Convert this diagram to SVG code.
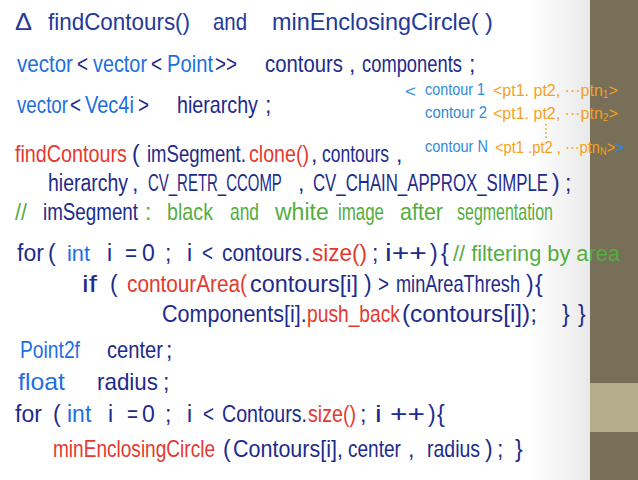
<svg xmlns="http://www.w3.org/2000/svg" width="638" height="480" viewBox="0 0 638 480">
<defs>
<linearGradient id="shade" x1="0" y1="0" x2="1" y2="0">
<stop offset="0" stop-color="#ffffff"/>
<stop offset="1" stop-color="#e9e9e9"/>
</linearGradient>
</defs>
<style>
text{font-family:"Liberation Sans","Noto Sans",Arial,sans-serif;font-size:23px}
.a{font-size:16px}
.nv{fill:#1d2b8c}
.tt{fill:#22399a}
.lb{fill:#1d6fe0}
.rd{fill:#e5392d}
.gr{fill:#54ad40}
.or{fill:#f4a11c}
.ab{fill:#2f8bd8}
</style>
<g id="background">
<rect x="0" y="0" width="638" height="480" fill="#ffffff"/>
<rect x="530" y="0" width="60" height="480" fill="url(#shade)"/>
<rect x="590" y="0" width="48" height="480" fill="#776f58"/>
<rect x="590" y="383" width="48" height="49" fill="#b4ad8b"/>
</g>
<g id="title" class="tt">
<text x="15" y="30" class="tt" textLength="17" lengthAdjust="spacingAndGlyphs">Δ</text>
<text class="tt" transform="matrix(0.975 0 0 1 48 30)">findContours()</text>
<text class="tt" transform="matrix(0.886 0 0 1 213 30)">and</text>
<text class="tt" transform="matrix(1.017 0 0 1 272 30)">minEnclosingCircle( )</text>
</g>
<g id="decl-contours">
<text class="lb" transform="matrix(0.894 0 0 1 17 72)">vector</text>
<text class="nv" transform="matrix(0.819 0 0 1 77 72)">&lt;</text>
<text class="lb" transform="matrix(0.862 0 0 1 93 72)">vector</text>
<text class="nv" transform="matrix(0.819 0 0 1 151 72)">&lt;</text>
<text class="lb" transform="matrix(0.878 0 0 1 167 72)">Point</text>
<text class="nv" transform="matrix(0.819 0 0 1 215 72)">&gt;&gt;</text>
<text class="nv" transform="matrix(0.884 0 0 1 265 72)">contours</text>
<text class="nv" x="349" y="72">,</text>
<text class="nv" transform="matrix(0.798 0 0 1 362 72)">components</text>
<text class="nv" x="469" y="72">;</text>
</g>
<g id="decl-hierarchy">
<text class="lb" transform="matrix(0.814 0 0 1 17 113)">vector</text>
<text class="nv" transform="matrix(0.819 0 0 1 70 113)">&lt;</text>
<text class="lb" transform="matrix(0.869 0 0 1 85 113)">Vec4i</text>
<text class="nv" transform="matrix(0.819 0 0 1 138 113)">&gt;</text>
<text class="nv" transform="matrix(0.856 0 0 1 177 113)">hierarchy</text>
<text class="nv" x="265" y="113">;</text>
</g>
<g id="annotation">
<text class="a ab" transform="matrix(1.18 0 0 1 405 97)">&lt;</text>
<text class="a ab" transform="matrix(0.9 0 0 1 425 95)">contour 1</text>
<text class="a or" x="493" y="96">&lt;pt1. pt2, ···ptn<tspan font-size="10" dy="2">1</tspan><tspan dy="-2">&gt;</tspan></text>
<text class="a ab" transform="matrix(0.93 0 0 1 425 118)">contour 2</text>
<text class="a or" x="493" y="119">&lt;pt1. pt2, ···ptn<tspan font-size="10" dy="2">2</tspan><tspan dy="-2">&gt;</tspan></text>
<line x1="546" y1="124" x2="546" y2="138" stroke="#f4a11c" stroke-width="1.6" stroke-dasharray="1.6 2.6"/>
<text class="a ab" transform="matrix(0.908 0 0 1 425 152)">contour N</text>
<text class="a or" transform="matrix(0.92 0 0 1 495 153)">&lt;pt1 .pt2 , ···ptn<tspan font-size="10" dy="2">N</tspan><tspan dy="-2">&gt;</tspan></text>
<text class="a ab" x="615" y="153">&gt;</text>
</g>
<g id="call-findcontours">
<text class="rd" transform="matrix(0.859 0 0 1 15 162)">findContours</text>
<text class="nv" x="132" y="162">(</text>
<text class="nv" transform="matrix(0.807 0 0 1 147 162)">imSegment.</text>
<text class="rd" transform="matrix(0.854 0 0 1 249 162)">clone()</text>
<text class="nv" x="311" y="162">,</text>
<text class="nv" transform="matrix(0.76 0 0 1 322 162)">contours</text>
<text class="nv" x="396" y="162">,</text>
<text class="nv" transform="matrix(0.846 0 0 1 48 191)">hierarchy</text>
<text class="nv" x="132" y="191">,</text>
<text class="nv" transform="matrix(0.651 0 0 1 148 191)">CV_RETR_CCOMP</text>
<text class="nv" x="298" y="191">,</text>
<text class="nv" transform="matrix(0.73 0 0 1 313 191)">CV_CHAIN_APPROX_SIMPLE</text>
<text class="nv" x="552" y="191">)</text>
<text class="nv" x="565" y="191">;</text>
</g>
<g id="comment">
<text class="gr" transform="matrix(0.94 0 0 1 15 220)">//</text>
<text class="nv" transform="matrix(0.817 0 0 1 43 220)">imSegment</text>
<text class="gr" x="145" y="220">:</text>
<text class="gr" transform="matrix(0.857 0 0 1 167 220)">black</text>
<text class="gr" transform="matrix(0.755 0 0 1 230 220)">and</text>
<text class="gr" x="275" y="220">white</text>
<text class="gr" transform="matrix(0.735 0 0 1 338 220)">image</text>
<text class="gr" transform="matrix(0.935 0 0 1 400 220)">after</text>
<text class="gr" transform="matrix(0.695 0 0 1 457 220)">segmentation</text>
</g>
<g id="loop-filter">
<text class="nv" x="17" y="261">for</text>
<text class="nv" x="48" y="261">(</text>
<text class="lb" transform="matrix(0.947 0 0 1 67 261)">int</text>
<text class="nv" x="107" y="261">i</text>
<text class="nv" transform="matrix(0.9 0 0 1 125 261)">=</text>
<text class="nv" x="142" y="261">0</text>
<text class="nv" x="165" y="261">;</text>
<text class="nv" x="187" y="261">i</text>
<text class="nv" transform="matrix(0.82 0 0 1 202 261)">&lt;</text>
<text class="nv" transform="matrix(0.907 0 0 1 222 261)">contours</text>
<text class="nv" x="304" y="261">.</text>
<text class="rd" transform="matrix(0.979 0 0 1 312 261)">size()</text>
<text class="nv" x="372" y="261">;</text>
<text class="nv" transform="matrix(1.31 0 0 1 385 261)">i++</text>
<text class="nv" x="430" y="261">)</text>
<text class="nv" x="441" y="261">{</text>
<text class="gr" transform="matrix(0.947 0 0 1 453 261)">// filtering by area</text>
<text class="nv" transform="matrix(1.3 0 0 1 82 292)">if</text>
<text class="nv" x="110" y="292">(</text>
<text class="rd" transform="matrix(0.903 0 0 1 127 292)">contourArea(</text>
<text class="nv" transform="matrix(1.018 0 0 1 250 292)">contours[i]</text>
<text class="nv" x="364" y="292">)</text>
<text class="nv" transform="matrix(0.82 0 0 1 378 292)">&gt;</text>
<text class="nv" transform="matrix(0.789 0 0 1 396 292)">minAreaThresh</text>
<text class="nv" x="526" y="292">)</text>
<text class="nv" x="535" y="292">{</text>
<text class="nv" transform="matrix(0.937 0 0 1 162 322)">Components[i].</text>
<text class="rd" transform="matrix(0.836 0 0 1 307 322)">push_back</text>
<text class="nv" transform="matrix(1.056 0 0 1 402 322)">(contours[i]);</text>
<text class="nv" x="562" y="322">}</text>
<text class="nv" x="578" y="322">}</text>
</g>
<g id="decl-circle">
<text class="lb" transform="matrix(0.838 0 0 1 20 358)">Point2f</text>
<text class="nv" transform="matrix(0.876 0 0 1 107 358)">center</text>
<text class="nv" x="166" y="358">;</text>
<text class="lb" transform="matrix(1.08 0 0 1 18 390)">float</text>
<text class="nv" transform="matrix(0.974 0 0 1 97 390)">radius</text>
<text class="nv" x="163" y="390">;</text>
</g>
<g id="loop-circle">
<text class="nv" x="15" y="422">for</text>
<text class="nv" x="53" y="422">(</text>
<text class="lb" x="67" y="422">int</text>
<text class="nv" x="108" y="422">i</text>
<text class="nv" transform="matrix(0.82 0 0 1 127 422)">=</text>
<text class="nv" x="142" y="422">0</text>
<text class="nv" x="165" y="422">;</text>
<text class="nv" x="187" y="422">i</text>
<text class="nv" transform="matrix(0.82 0 0 1 203 422)">&lt;</text>
<text class="nv" transform="matrix(0.853 0 0 1 222 422)">Contours.</text>
<text class="rd" transform="matrix(0.854 0 0 1 308 422)">size()</text>
<text class="nv" x="360" y="422">;</text>
<text class="nv" transform="matrix(1.3 0 0 1 375 422)">i ++</text>
<text class="nv" x="428" y="422">)</text>
<text class="nv" x="437" y="422">{</text>
<text class="rd" transform="matrix(0.829 0 0 1 53 457)">minEnclosingCircle</text>
<text class="nv" x="223" y="457">(</text>
<text class="nv" transform="matrix(0.935 0 0 1 233 457)">Contours[i],</text>
<text class="nv" transform="matrix(0.829 0 0 1 348 457)">center</text>
<text class="nv" x="408" y="457">,</text>
<text class="nv" transform="matrix(0.847 0 0 1 427 457)">radius</text>
<text class="nv" x="485" y="457">)</text>
<text class="nv" x="497" y="457">;</text>
<text class="nv" x="515" y="457">}</text>
</g>
</svg>
